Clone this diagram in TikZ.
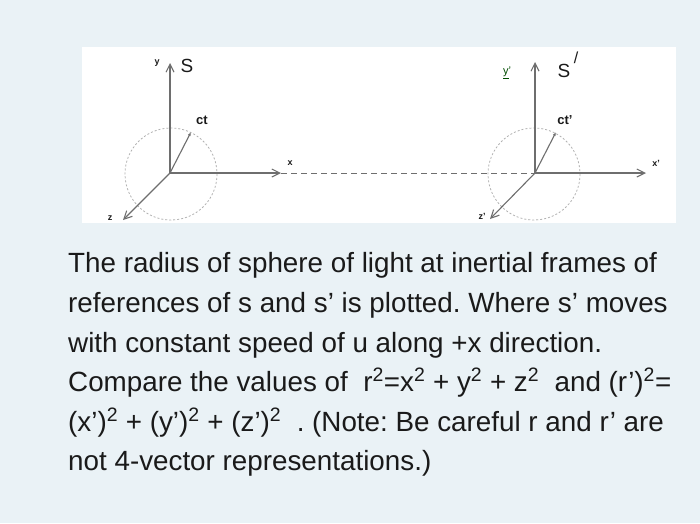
\documentclass[tikz,border=0pt]{standalone}
\usepackage{fontspec}
\setmainfont{Liberation Sans}
\usetikzlibrary{arrows.meta}
\definecolor{bgc}{HTML}{EAF2F6}
\definecolor{axc}{HTML}{6E6E6E}
\definecolor{txc}{HTML}{1A1A1A}
\frenchspacing
\begin{document}
\begin{tikzpicture}[x=1pt,y=-1pt,
  axis/.style={draw=axc,line width=1.1pt,-{Straight Barb[length=8pt,width=8pt]}},
  sph/.style={draw=gray!60,dashed,dash pattern=on 2pt off 2pt,line width=0.8pt},
  lbl/.style={font=\fontsize{9}{9}\selectfont\bfseries,text=txc,inner sep=0pt},
  big/.style={font=\fontsize{19}{19}\selectfont,text=txc,inner sep=0pt},
  para/.style={font=\fontsize{27.8}{27.8}\selectfont,text=txc,anchor=base west,inner sep=0pt}]
\fill[bgc] (0,0) rectangle (700,523);
\fill[white] (82,47) rectangle (676,223);
% left frame
\coordinate (o1) at (170,173);
\coordinate (y1) at (170,63);
\coordinate (x1) at (281,173);
\coordinate (z1) at (123,220);
\coordinate (c1) at (191,132);
\draw[sph] (171,174) circle (46);
\draw[axis] (o1) -- (y1);
\draw[axis] (o1) -- (x1);
\draw[axis] (o1) -- (z1);
\draw[draw=axc,line width=1.1pt,-{Latex[length=4pt,width=3pt]}] (o1) -- (c1);
\node[lbl] (ly1) at (157,63) {y};
\node[big] (ls1) at (187,66) {S};
\node[lbl,font=\fontsize{13}{13}\selectfont\bfseries] (lc1) at (202,120) {ct};
\node[lbl] (lx1) at (290,163) {x};
\node[lbl] (lz1) at (110,218) {z};
% right frame
\coordinate (o2) at (535,173);
\coordinate (y2) at (535,62);
\coordinate (x2) at (646,173);
\coordinate (z2) at (490,219);
\coordinate (c2) at (556,132);
\draw[sph] (534,174) circle (46);
\draw[draw=axc,line width=0.9pt,dashed,dash pattern=on 6pt off 4pt] (x1) -- (o2);
\draw[axis] (o2) -- (y2);
\draw[axis] (o2) -- (x2);
\draw[axis] (o2) -- (z2);
\draw[draw=axc,line width=1.1pt,-{Latex[length=4pt,width=3pt]}] (o2) -- (c2);
\node[lbl,font=\fontsize{11}{11}\selectfont,text=black!70!green] (ly2) at (507,73) {\underline{y}’};
\node[big] (ls2) at (564,71) {S};
\node[big,font=\fontsize{16}{16}\selectfont] (lsp) at (576,58) {/};
\node[lbl,font=\fontsize{13}{13}\selectfont\bfseries] (lc2) at (565,120) {ct’};
\node[lbl] (lx2) at (656,163) {x’};
\node[lbl] (lz2) at (482,216) {z’};
% paragraph
\node[para] (t1) at (68,272) {The radius of sphere of light at inertial frames of};
\node[para] (t2) at (68,312) {references of s and s’ is plotted. Where s’ moves};
\node[para] (t3) at (68,352) {with constant speed of u along +x direction.};
\node[para] (t4) at (68,391) {Compare the values of\ \ r\textsuperscript{2}=x\textsuperscript{2} + y\textsuperscript{2} + z\textsuperscript{2}\ \ and (r’)\textsuperscript{2}=};
\node[para] (t5) at (68,431) {(x’)\textsuperscript{2} + (y’)\textsuperscript{2} + (z’)\textsuperscript{2}\ \ . (Note: Be careful r and r’ are};
\node[para] (t6) at (68,470) {not 4-vector representations.)};
\end{tikzpicture}
\end{document}
